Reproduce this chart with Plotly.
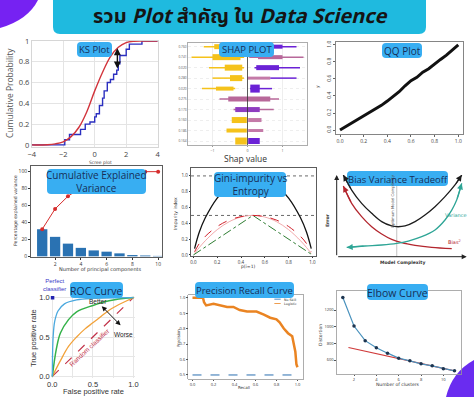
import copy
import plotly.graph_objects as go

W, H = 474, 397

# ---------------- data ----------------
title_text = "รวม <i>Plot</i> สำคัญ ใน <i>Data Science</i>"

# KS plot
ks_cdf_x = [-4, -3, -2.5, -2, -1.5, -1, -0.5, 0, 0.5, 1, 1.5, 2, 2.5, 3, 4]
ks_cdf_y = [0, 0.002, 0.01, 0.03, 0.08, 0.17, 0.32, 0.52, 0.7, 0.85, 0.94, 0.985, 0.998, 1, 1]
ks_ecdf_x = [-4, -1.9, -1.6, -0.9, -0.6, -0.3, 0.0, 0.1, 0.3, 0.5, 0.6, 0.8, 1.0, 1.2, 1.4, 1.5, 1.6, 2.0, 2.2, 3.0, 4.0]
ks_ecdf_y = [0, 0.05, 0.1, 0.15, 0.2, 0.22, 0.27, 0.3, 0.38, 0.45, 0.52, 0.6, 0.63, 0.68, 0.72, 0.78, 0.86, 0.92, 0.97, 1.0, 1.0]
ks_ticks = [-4, -2, 0, 2, 4]

# SHAP plot: per row (top -> bottom) segments (x_start, x_end, thickness_px, colour_key)
shap_features = ["0.760", "0.741", "0.020", "0.280", "0.020", "0.275", "0.173", "0.160", "0.186", "0.164"]
shap_rows = [
    [(-1.25, -0.35, 1.5, "Y"), (-0.95, -0.3, 5, "Y"), (0.45, 1.4, 1.5, "P"), (0.5, 1.0, 4, "P")],
    [(-1.6, -0.1, 1.5, "Y"), (-1.0, -0.2, 6, "Y"), (0.05, 1.6, 1.5, "M"), (0.3, 1.0, 4, "M")],
    [(-1.1, -0.1, 1.5, "Y"), (-0.65, -0.15, 6, "Y"), (0.2, 1.5, 1.5, "P"), (0.25, 0.9, 5, "P")],
    [(-1.0, -0.1, 1.5, "Y"), (-0.5, -0.15, 6, "Y"), (0.0, 0.65, 3, "K"), (0.65, 1.4, 1.5, "P")],
    [(-1.3, -0.35, 1.5, "Y"), (-0.9, -0.4, 4, "Y"), (0.07, 0.7, 1.5, "P"), (0.08, 0.35, 8, "P")],
    [(-0.8, 0.9, 1.5, "M"), (-0.55, 0.65, 5, "M")],
    [(-0.4, 0.75, 1.5, "M"), (-0.35, 0.35, 5, "V")],
    [(-0.45, -0.02, 6, "Y"), (0.02, 0.4, 4, "K")],
    [(-0.6, -0.02, 4, "Y"), (0.02, 0.45, 3, "K")],
    [(-0.35, -0.02, 7, "Y"), (0.02, 0.35, 6, "P")],
]
shap_colors = {"Y": "#f5c21b", "P": "#6b22d6", "M": "#b8689a", "K": "#c47aa8", "V": "#8e3cc0"}

# QQ plot
qq_x = [0, 0.05, 0.1, 0.15, 0.2, 0.25, 0.3, 0.35, 0.4, 0.45, 0.5, 0.55, 0.6, 0.65, 0.7, 0.75, 0.8, 0.85, 0.9, 0.95, 1.0]
qq_y = [0.0, 0.04, 0.08, 0.12, 0.17, 0.21, 0.25, 0.29, 0.34, 0.39, 0.45, 0.52, 0.58, 0.62, 0.68, 0.72, 0.78, 0.83, 0.88, 0.94, 1.0]
qq_ticks = [0.0, 0.2, 0.4, 0.6, 0.8, 1.0]

# Cumulative explained variance (scree)
pc_num = [1, 2, 3, 4, 5, 6, 7, 8, 9, 10]
pc_var = [32, 23, 15, 10, 7, 5.5, 3.5, 1.5, 1, 0.5]
pc_cum = [32, 56, 71, 81, 88, 93.5, 97, 98.5, 100, 100]

# Gini vs entropy
gi_p = [0.01, 0.05, 0.1, 0.2, 0.3, 0.4, 0.5, 0.6, 0.7, 0.8, 0.9, 0.95, 0.99]
gi_entropy = [0.08, 0.29, 0.47, 0.72, 0.88, 0.97, 1.0, 0.97, 0.88, 0.72, 0.47, 0.29, 0.08]
gi_scaled = [0.04, 0.145, 0.235, 0.36, 0.44, 0.485, 0.5, 0.485, 0.44, 0.36, 0.235, 0.145, 0.04]
gi_gini = [0.02, 0.095, 0.18, 0.32, 0.42, 0.48, 0.5, 0.48, 0.42, 0.32, 0.18, 0.095, 0.02]
gi_mis_p = [0.0, 0.5, 1.0]
gi_mis = [0.0, 0.5, 0.0]

# Bias variance tradeoff
bv_total_x = [0.051, 0.115, 0.192, 0.269, 0.346, 0.423, 0.462, 0.526, 0.603, 0.679, 0.756, 0.833, 0.910, 0.962]
bv_total_y = [1.0, 0.816, 0.653, 0.531, 0.429, 0.376, 0.367, 0.376, 0.429, 0.51, 0.612, 0.735, 0.878, 1.0]
bv_bias_x = [0.051, 0.115, 0.192, 0.269, 0.346, 0.423, 0.5, 0.603, 0.731, 0.885]
bv_bias_y = [0.865, 0.653, 0.49, 0.367, 0.278, 0.212, 0.171, 0.139, 0.114, 0.098]
bv_var_x = [0.077, 0.218, 0.346, 0.462, 0.551, 0.654, 0.756, 0.833, 0.885, 0.923, 0.962]
bv_var_y = [0.114, 0.131, 0.143, 0.163, 0.192, 0.245, 0.327, 0.449, 0.571, 0.694, 0.898]
bv_optimum = 0.462

# ROC
roc_perfect_x = [0, 0.01, 0.03, 0.07, 0.15, 0.3, 0.5, 1.0]
roc_perfect_y = [0, 0.5, 0.7, 0.83, 0.92, 0.97, 0.99, 1.0]
roc_good_x = [0, 0.05, 0.1, 0.2, 0.3, 0.5, 0.7, 1.0]
roc_good_y = [0, 0.35, 0.55, 0.72, 0.82, 0.9, 0.96, 1.0]
roc_ok_x = [0, 0.1, 0.2, 0.3, 0.4, 0.5, 0.6, 0.7, 0.8, 0.9, 1.0]
roc_ok_y = [0, 0.2, 0.38, 0.5, 0.6, 0.68, 0.76, 0.84, 0.9, 0.95, 1.0]
roc_ticks = [0, 0.5, 1.0]
roc_ticktext = ["0.0", "0.5", "1.0"]

# Precision recall
pr_recall = [0.0, 0.10, 0.11, 0.13, 0.2, 0.26, 0.33, 0.39, 0.45, 0.52, 0.61, 0.68, 0.74, 0.8, 0.83, 0.87, 0.91, 0.95, 0.96, 0.98, 0.99, 1.0]
pr_precision = [1.0, 1.0, 0.97, 0.95, 0.96, 0.95, 0.94, 0.94, 0.92, 0.91, 0.91, 0.89, 0.87, 0.86, 0.84, 0.8, 0.77, 0.75, 0.72, 0.65, 0.57, 0.55]
pr_noskill = 0.5
pr_xticks = [0.0, 0.2, 0.4, 0.6, 0.8, 1.0]
pr_yticks = [0.5, 0.6, 0.7, 0.8, 0.9, 1.0]

# Elbow
el_k = [1, 2, 3, 4, 5, 6, 7, 8, 9, 10, 11]
el_dist = [1350, 1008, 832, 748, 682, 622, 590, 554, 530, 496, 470]
el_fit_x = [1.5, 11]
el_fit_y = [750, 470]

# ---------------- helpers ----------------
def PX(x):
    return x / W


def PY(y):
    return 1 - y / H


layout = dict(width=W, height=H, margin=dict(l=0, r=0, t=0, b=0, autoexpand=False),
              paper_bgcolor="white", plot_bgcolor="rgba(0,0,0,0)", showlegend=False)
shapes, annotations, top_annotations = [], [], []
traces = []

BASE = dict(showgrid=False, zeroline=False, showline=True, linecolor="#999", linewidth=0.8,
            mirror=True, ticks="", fixedrange=True, automargin=False,
            tickfont=dict(family="DejaVu Sans", size=5, color="#444"))


def refs(i):
    return ("x", "y") if i == 1 else (f"x{i}", f"y{i}")


def axes(i, box, xr, yr, xkw=None, ykw=None):
    x0, x1, yt, yb = box
    xr_, yr_ = refs(i)
    xa = copy.deepcopy(BASE)
    xa.update(domain=[PX(x0), PX(x1)], range=xr, anchor=yr_)
    ya = copy.deepcopy(BASE)
    ya.update(domain=[PY(yb), PY(yt)], range=yr, anchor=xr_)
    if xkw:
        xa.update(xkw)
    if ykw:
        ya.update(ykw)
    sfx = "" if i == 1 else str(i)
    layout["xaxis" + sfx] = xa
    layout["yaxis" + sfx] = ya


def add(i, **kw):
    xr_, yr_ = refs(i)
    traces.append(go.Scatter(xaxis=xr_, yaxis=yr_, hoverinfo="skip", **kw))


def txt(x, y, s, size, color="#333", angle=0, family="DejaVu Sans", lst=None, xanchor="center", **kw):
    (lst if lst is not None else annotations).append(
        dict(x=PX(x), y=PY(y), xref="paper", yref="paper", text=s, showarrow=False,
             font=dict(size=size, color=color, family=family), textangle=angle,
             xanchor=xanchor, yanchor="middle", **kw))


def rrect(x0, y0, x1, y1, r):
    pts = [("M", x0 + r, y0), ("L", x1 - r, y0), ("Q", x1, y0, x1, y0 + r), ("L", x1, y1 - r),
           ("Q", x1, y1, x1 - r, y1), ("L", x0 + r, y1), ("Q", x0, y1, x0, y1 - r),
           ("L", x0, y0 + r), ("Q", x0, y0, x0 + r, y0)]
    out = []
    for p in pts:
        cmd, vals = p[0], p[1:]
        coords = []
        for k in range(0, len(vals), 2):
            coords.append(f"{PX(vals[k]):.5f},{PY(vals[k + 1]):.5f}")
        out.append(cmd + " " + " ".join(coords))
    return " ".join(out) + " Z"


LBL = "#38aef2"
LBL_TXT = "#172f58"


def label(x0, y0, x1, y1, text, size):
    shapes.append(dict(type="path", path=rrect(x0, y0, x1, y1, 4), xref="paper", yref="paper",
                       fillcolor=LBL, line=dict(width=0), layer="above"))
    txt((x0 + x1) / 2, (y0 + y1) / 2 + 0.5, text, size, LBL_TXT, family="Open Sans", lst=top_annotations)


# ---------------- decorations / title ----------------
shapes.append(dict(type="path", xref="paper", yref="paper", layer="below",
                   path=f"M {PX(0)},{PY(0)} L {PX(38)},{PY(0)} Q {PX(28)},{PY(20)} {PX(0)},{PY(28)} Z",
                   fillcolor="#7622f2", line=dict(width=0)))
shapes.append(dict(type="path", xref="paper", yref="paper", layer="below",
                   path=f"M {PX(474)},{PY(360)} Q {PX(452)},{PY(372)} {PX(446)},{PY(397)} L {PX(474)},{PY(397)} Z",
                   fillcolor="#6a2cf0", line=dict(width=0)))
shapes.append(dict(type="path", xref="paper", yref="paper", layer="below",
                   path=rrect(53, -10, 426, 34, 7), fillcolor="#1fbadf", line=dict(width=0)))
txt(240, 17, "<b>" + title_text + "</b>", 20, "#151515",
    family="Noto Sans Thai, Loma, Garuda, Noto Sans, DejaVu Sans")

# ---------------- 1: KS plot ----------------
axes(1, (31.7, 157.7, 41, 147), [-4, 4], [-0.02, 1.0],
     dict(tickvals=ks_ticks, showgrid=True, gridcolor="#e4e4e4", linecolor="#ccc",
          tickfont=dict(family="Open Sans", size=7.5, color="#444")),
     dict(tickvals=[0, 0.2, 0.4, 0.6, 0.8, 1.0], ticktext=["0", "0.2", "0.4", "0.6", "0.8", "1"],
          showgrid=True, gridcolor="#e4e4e4", linecolor="#ccc",
          tickfont=dict(family="Open Sans", size=7.5, color="#444")))
add(1, x=ks_ecdf_x, y=ks_ecdf_y, mode="lines", line=dict(color="#2b2fc0", width=1.4, shape="hv"))
add(1, x=ks_cdf_x, y=ks_cdf_y, mode="lines", line=dict(color="#d2343c", width=1.4, shape="spline"))
annotations.append(dict(x=1.44, y=0.93, ax=1.44, ay=0.72, xref="x", yref="y", axref="x", ayref="y",
                        text="", showarrow=True, arrowhead=2, arrowside="end+start", arrowsize=1,
                        arrowwidth=1.4, arrowcolor="#111"))
txt(9, 93, "Cumulative Probability", 8.5, "#555", angle=-90, family="Open Sans")
txt(100, 162, "Scree plot", 4.5, "#444")

# ---------------- 2: SHAP ----------------
n_rows = len(shap_rows)
axes(2, (188, 307, 43, 145), [-1.7, 1.7], [-0.38, n_rows - 0.65],
     dict(tickvals=[-1, 0, 1], ticks="outside", ticklen=1.5, tickcolor="#999",
          showgrid=True, gridcolor="#eee", tickfont=dict(size=3.5, color="#555")),
     dict(tickvals=list(range(n_rows - 1, -1, -1)), ticktext=shap_features, showgrid=True,
          gridcolor="#eee", griddash="dot", tickfont=dict(size=3.2, color="#555")))
for r, segs in enumerate(shap_rows):
    yv = n_rows - 1 - r
    for (a, b, th, ck) in segs:
        add(2, x=[a, b], y=[yv, yv], mode="lines", line=dict(color=shap_colors[ck], width=th))
add(2, x=[0, 0], y=[-0.38, n_rows - 0.65], mode="lines", line=dict(color="#333", width=0.8))
txt(245, 158, "Shap value", 8.5, "#333", family="Open Sans")

# ---------------- 3: QQ ----------------
axes(3, (336, 463, 42, 134), [-0.034, 1.04], [-0.047, 1.035],
     dict(tickvals=qq_ticks, ticktext=[f"{v:.1f}" for v in qq_ticks], ticks="outside", ticklen=2,
          tickcolor="#666", linecolor="#666", tickfont=dict(size=5, color="#444")),
     dict(tickvals=qq_ticks, ticktext=[f"{v:.1f}" for v in qq_ticks], ticks="outside", ticklen=2,
          tickcolor="#666", linecolor="#666", tickangle=-90, tickfont=dict(size=5, color="#444")))
add(3, x=qq_x, y=qq_y, mode="lines", line=dict(color="#111", width=3))
txt(318, 87, "y", 4.5, "#444", angle=-90)

# ---------------- 4: Cumulative explained variance ----------------
axes(4, (31, 162, 166, 257), [0.13, 10.3], [-0.8, 106.7],
     dict(tickvals=[2, 4, 6, 8, 10], ticks="outside", ticklen=2, tickcolor="#333", linecolor="#333",
          tickfont=dict(size=5, color="#333")),
     dict(tickvals=[0, 20, 40, 60, 80, 100], ticks="outside", ticklen=2, tickcolor="#333",
          linecolor="#333", tickfont=dict(size=5, color="#333")))
traces.append(go.Bar(x=pc_num, y=pc_var, xaxis="x4", yaxis="y4", marker=dict(color="#2a72b2", line=dict(width=0)),
                     width=0.8, hoverinfo="skip"))
add(4, x=pc_num, y=pc_cum, mode="lines+markers", line=dict(color="#d62d2d", width=1),
    marker=dict(color="#d62d2d", size=4))
txt(15, 211, "Percentage explained variance", 4.6, "#333", angle=-90)
txt(100, 269, "Number of principal components", 5, "#333")

# ---------------- 5: Gini vs entropy ----------------
gticks = [0.0, 0.2, 0.4, 0.6, 0.8, 1.0]
axes(5, (191, 316, 168, 256), [-0.02, 1.03], [-0.013, 1.1],
     dict(tickvals=gticks, ticktext=[f"{v:.1f}" for v in gticks], ticks="outside", ticklen=1.5,
          tickcolor="#333", linecolor="#333", tickfont=dict(size=4.5, color="#333")),
     dict(tickvals=gticks, ticktext=[f"{v:.1f}" for v in gticks], ticks="outside", ticklen=1.5,
          tickcolor="#333", linecolor="#333", tickfont=dict(size=4.5, color="#333")))
for lvl in (1.0, 0.5):
    add(5, x=[-0.02, 1.03], y=[lvl, lvl], mode="lines", line=dict(color="#444", width=0.8, dash="dot"))
add(5, x=gi_p, y=gi_gini, mode="lines", line=dict(color="#f2a9ab", width=1, shape="spline"))
add(5, x=gi_mis_p, y=gi_mis, mode="lines", line=dict(color="#2e7d32", width=1, dash="dashdot"))
add(5, x=gi_p, y=gi_scaled, mode="lines", line=dict(color="#d0202a", width=1, dash="dash", shape="spline"))
add(5, x=gi_p, y=gi_entropy, mode="lines", line=dict(color="#111", width=1.3, shape="spline"))
txt(175, 214, "Impurity index", 4.5, "#333", angle=-90)
txt(248, 266, "p(i=1)", 4.5, "#333")

# ---------------- 6: Bias variance ----------------
axes(6, (336.7, 466.7, 175, 256.7), [0, 1], [0, 1],
     dict(showline=False, showticklabels=False), dict(showline=False, showticklabels=False))
add(6, x=[bv_optimum, bv_optimum], y=[0, 0.96], mode="lines", line=dict(color="#999", width=0.6))
add(6, x=bv_total_x, y=bv_total_y, mode="lines", line=dict(color="#1c1c1c", width=1.3, shape="spline"))
add(6, x=bv_bias_x, y=bv_bias_y, mode="lines", line=dict(color="#b3262e", width=1.3, shape="spline"))
add(6, x=bv_var_x, y=bv_var_y, mode="lines", line=dict(color="#2ea596", width=1.3, shape="spline"))


def arrow6(x, y, ax_, ay_, color, w=1):
    annotations.append(dict(x=x, y=y, ax=ax_, ay=ay_, xref="x6", yref="y6", axref="x6", ayref="y6",
                            text="", showarrow=True, arrowhead=2, arrowsize=1, arrowwidth=w,
                            arrowcolor=color))


arrow6(0, 1.0, 0, 0, "#222", 1)
arrow6(1.0, 0, 0, 0, "#222", 1)
arrow6(bv_total_x[0], bv_total_y[0], bv_total_x[1], bv_total_y[1], "#1c1c1c", 1.2)
arrow6(bv_total_x[-1], bv_total_y[-1], bv_total_x[-2], bv_total_y[-2], "#1c1c1c", 1.2)
arrow6(bv_bias_x[0], bv_bias_y[0], bv_bias_x[1], bv_bias_y[1], "#b3262e", 1.2)
arrow6(bv_var_x[0], bv_var_y[0], bv_var_x[1], bv_var_y[1], "#2ea596", 1.2)
arrow6(bv_var_x[-1], bv_var_y[-1], bv_var_x[-2], bv_var_y[-2], "#2ea596", 1.2)
txt(392, 201, "Optimum Model Complexity", 3.8, "#555", angle=-90)
txt(456, 215, "Variance", 5, "#2ea596")
txt(454, 242, "Bias<sup>2</sup>", 5, "#b3262e")
txt(327, 220, "<b>Error</b>", 4.5, "#333", angle=-90)
txt(402, 262, "<b>Model Complexity</b>", 4.5, "#333")

# ---------------- 7: ROC ----------------
axes(7, (50.7, 135, 296, 378), [-0.02, 1.02], [-0.02, 1.02],
     dict(tickvals=roc_ticks, ticktext=roc_ticktext, showgrid=True, gridcolor="#e6e6e6", showline=False,
          minor=dict(dtick=0.25, showgrid=True, gridcolor="#e6e6e6"),
          tickfont=dict(family="Liberation Sans", size=7.5, color="#333")),
     dict(tickvals=roc_ticks, ticktext=roc_ticktext, showgrid=True, gridcolor="#e6e6e6", showline=False,
          minor=dict(dtick=0.25, showgrid=True, gridcolor="#e6e6e6"),
          tickfont=dict(family="Liberation Sans", size=7.5, color="#333")))
add(7, x=[0, 1], y=[0, 1], mode="lines", line=dict(color="#c2334a", width=1.2, dash="dash"))
add(7, x=roc_ok_x, y=roc_ok_y, mode="lines", line=dict(color="#f2a23a", width=1.3, shape="spline"))
add(7, x=roc_good_x, y=roc_good_y, mode="lines", line=dict(color="#35b24a", width=1.5, shape="spline"))
add(7, x=roc_perfect_x, y=roc_perfect_y, mode="lines", line=dict(color="#4aa8de", width=1.3, shape="spline"))
add(7, x=[0], y=[1], mode="markers", marker=dict(color="#2222b0", size=4, symbol="square"))
annotations.append(dict(x=0.61, y=0.89, ax=0.86, ay=0.63, xref="x7", yref="y7", axref="x7", ayref="y7",
                        text="", showarrow=True, arrowhead=2, arrowside="end+start", arrowsize=1,
                        arrowwidth=1, arrowcolor="#111"))
txt(98, 301, "Better", 6.5, "#222", family="Liberation Sans")
txt(123, 334, "Worse", 6.5, "#222", family="Liberation Sans")
txt(89, 347, "Random classifier", 6.5, "#c2334a", angle=-43, family="Liberation Sans")
txt(68, 285, "Perfect<br>classifier", 6, "#3a3ac8", family="Liberation Sans", xanchor="right")
txt(33, 338, "True positive rate", 7.5, "#333", angle=-90, family="Liberation Sans")
txt(93, 391.5, "False positive rate", 7.5, "#333", family="Liberation Sans")

# ---------------- 8: Precision recall ----------------
axes(8, (188.3, 302.7, 295, 379), [-0.04, 1.05], [0.474, 1.017],
     dict(tickvals=pr_xticks, ticktext=[f"{v:.1f}" for v in pr_xticks], ticks="outside", ticklen=1.5,
          tickcolor="#555", tickfont=dict(size=4, color="#333")),
     dict(tickvals=pr_yticks, ticktext=[f"{v:.1f}" for v in pr_yticks], ticks="outside", ticklen=1.5,
          tickcolor="#555", tickfont=dict(size=4, color="#333")))
add(8, x=[0, 1], y=[pr_noskill, pr_noskill], mode="lines", line=dict(color="#2a6fb0", width=1, dash="dash"))
add(8, x=pr_recall, y=pr_precision, mode="lines", line=dict(color="#ea8422", width=2.5))
add(8, x=[0.78, 0.84], y=[0.99, 0.99], mode="lines", line=dict(color="#2a6fb0", width=0.8, dash="dash"))
add(8, x=[0.78, 0.84], y=[0.962, 0.962], mode="lines", line=dict(color="#ea8422", width=0.8))
txt(290, 299.5, "No Skill", 3.3, "#333")
txt(290, 303.8, "Logistic", 3.3, "#333")
txt(178, 338, "Precision", 4, "#333", angle=-90)
txt(244, 387, "Recall", 4, "#333")

# ---------------- 9: Elbow ----------------
axes(9, (336.7, 461, 291, 374), [0.45, 11.58], [432, 1428],
     dict(tickvals=[2, 4, 6, 8, 10], ticks="outside", ticklen=1.5, tickcolor="#555",
          tickfont=dict(size=4, color="#333")),
     dict(tickvals=[600, 800, 1000, 1200], ticks="outside", ticklen=1.5, tickcolor="#555",
          tickfont=dict(size=4, color="#333")))
add(9, x=el_fit_x, y=el_fit_y, mode="lines", line=dict(color="#d03a3a", width=1.2))
add(9, x=el_k, y=el_dist, mode="lines+markers", line=dict(color="#4a92bd", width=1.2),
    marker=dict(color="#1d3550", size=3.5))
txt(320, 335, "Distortion", 4.5, "#333", angle=-90)
txt(398, 384.5, "Number of clusters", 4.5, "#333")

# ---------------- labels ----------------
label(77, 42, 112, 57, "KS Plot", 9.5)
label(219, 42, 274, 57, "SHAP PLOT", 9.5)
label(382, 43, 422, 58, "QQ Plot", 10)
label(47, 169, 146, 194, "Cumulative Explained<br>Variance", 10)
label(214, 172, 286, 197, "Gini-impurity vs<br>Entropy", 10)
label(347, 171, 448, 186, "Bias Variance Tradeoff", 9.5)
label(70, 282, 123, 298, "ROC Curve", 10.5)
label(195, 282, 294, 298, "Precision Recall Curve", 9.5)
label(367, 284, 428, 300, "Elbow Curve", 10.5)

layout["shapes"] = shapes
layout["annotations"] = annotations + top_annotations
fig = go.Figure(data=traces, layout=layout)
fig.write_html("out.html", config={"displayModeBar": False, "staticPlot": True},
               post_script="document.body.style.margin='0px';document.body.style.padding='0px';"
                           "document.body.style.overflow='hidden';")
